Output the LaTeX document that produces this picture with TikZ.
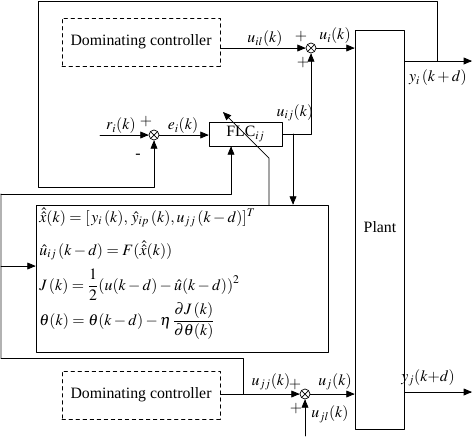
\documentclass[tikz,border=0pt]{standalone}
\usepackage{amsmath}
\usepackage{mathptmx}
\usepackage{fontspec}
\setmainfont{Liberation Serif}
\usepackage{pgf,tikz}
\usetikzlibrary{arrows}

\begin{document}
\begin{tikzpicture}[line cap=round,line join=round,>=triangle 45,x=0.03cm,y=-0.03cm,line width=0.6pt,
  font=\fontsize{13.5}{16}\selectfont,
  block/.style={draw,rectangle,inner sep=0pt},
  domctrl/.style={block,dashed,minimum width=4.74cm,minimum height=1.44cm},
  summer/.style={draw,circle,inner sep=0pt,minimum size=0.3cm,
    path picture={\draw (path picture bounding box.north west) -- (path picture bounding box.south east)
      (path picture bounding box.north east) -- (path picture bounding box.south west);}},
  lbl/.style={inner sep=0pt},
  eqn/.style={inner sep=0pt,anchor=base west}]
\useasboundingbox (0,0) rectangle (474,436);
% blocks
\node[domctrl] (dci) at (141,42) {Dominating controller};
\node[domctrl] (dcj) at (141,395) {Dominating controller};
\node[block,minimum width=2.19cm,minimum height=0.72cm] (flc) at (245.5,134) {FLC$_{ij}$};
\node[block,minimum width=1.47cm,minimum height=11.97cm] (plant) at (379.5,229.5) {};
\node[lbl] (lplant) at (380,227) {Plant};
\node[block,minimum width=8.76cm,minimum height=4.41cm] (learn) at (182,278.5) {};
\node[eqn] (eq1) at (39,222) {$\hat{\hat{x}}(k)=[\,y_i\,(k),\,\hat{y}_{ip}\,(k),u_{jj}\,(k-d)]^T$};
\node[eqn] (eq2) at (39,255) {$\hat{u}_{ij}\,(k-d)=F(\hat{\hat{x}}(k))$};
\node[eqn] (eq3) at (39,290) {$\displaystyle J\,(k)=\frac{1}{2}(u(k-d)-\hat{u}(k-d))^2$};
\node[eqn] (eq4) at (39,325) {$\displaystyle \theta(k)=\theta(k-d)-\eta\,\frac{\partial J\,(k)}{\partial\theta(k)}$};
\node[summer] (si) at (311,48) {};
\node[summer] (sr) at (154,135) {};
\node[summer] (sj) at (305,394) {};
% points
\coordinate (rin) at (100,135);
\coordinate (yijunc) at (437,61);
\coordinate (yiout) at (472,61);
\coordinate (yjout) at (472,392);
\coordinate (topl) at (38,1);
\coordinate (fbi) at (38,187);
\coordinate (bus1) at (1,194);
\coordinate (bus2) at (1,266);
\coordinate (bus3) at (1,358);
\coordinate (flcin) at (231,194);
\coordinate (br) at (293,134);
\coordinate (adapt) at (269,158);
\coordinate (adtip) at (223,112);
\coordinate (ujjjunc) at (243,394);
\coordinate (ujlin) at (305,436);
% connectors
\draw[->] (dci.east |- si) -- (si);
\draw[->] (si) -- (si -| plant.west);
\draw[->] (rin) -- (sr);
\draw[->] (sr) -- (sr -| flc.west);
\draw[->] (flc.east) -| (si);
\draw[->] (br) -- (br |- learn.north);
\draw[->] (adapt |- learn.north) -- (adapt) -- (adtip);
\draw[->] (yijunc) |- (topl) -- (fbi) -| (sr);
\draw[->] (plant.east |- yijunc) -- (yiout);
\draw[->] (plant.east |- yjout) -- (yjout);
\draw[gray!60,line width=1pt] (bus1) -- (bus3);
\draw[->] (bus1) -- (flcin) -- (flcin |- flc.south);
\draw[->] (bus2) -- (bus2 -| learn.west);
\draw (bus3) -| (ujjjunc);
\draw[->] (dcj.east |- sj) -- (sj);
\draw[->] (sj) -- (sj -| plant.west);
\draw[->] (ujlin) -- (sj);
% labels
\node[lbl] (lri) at (121,126) {$r_i(k)$};
\node[lbl] (lpr) at (146,122) {$+$};
\node[lbl] (lmr) at (138,156) {-};
\node[lbl] (lei) at (183,126) {$e_i(k)$};
\node[lbl] (luil) at (265,39) {$u_{il}(k)$};
\node[lbl] (lpi1) at (301,37) {$+$};
\node[lbl] (lpi2) at (303,63) {$+$};
\node[lbl] (lui) at (335,36) {$u_i(k)$};
\node[lbl] (luij) at (295,113) {$u_{ij}(k)$};
\node[lbl] (lyi) at (438,78) {$y_i\,(k+d)$};
\node[lbl] (lujj) at (271,382) {$u_{jj}(k)$};
\node[lbl] (lpj1) at (295,385) {$+$};
\node[lbl] (lpj2) at (296,409) {$+$};
\node[lbl] (luj) at (335,382) {$u_j(k)$};
\node[lbl] (lujl) at (330,414) {$u_{jl}(k)$};
\node[lbl] (lyj) at (428,378) {$y_j(k{+}d)$};
\end{tikzpicture}
\end{document}
